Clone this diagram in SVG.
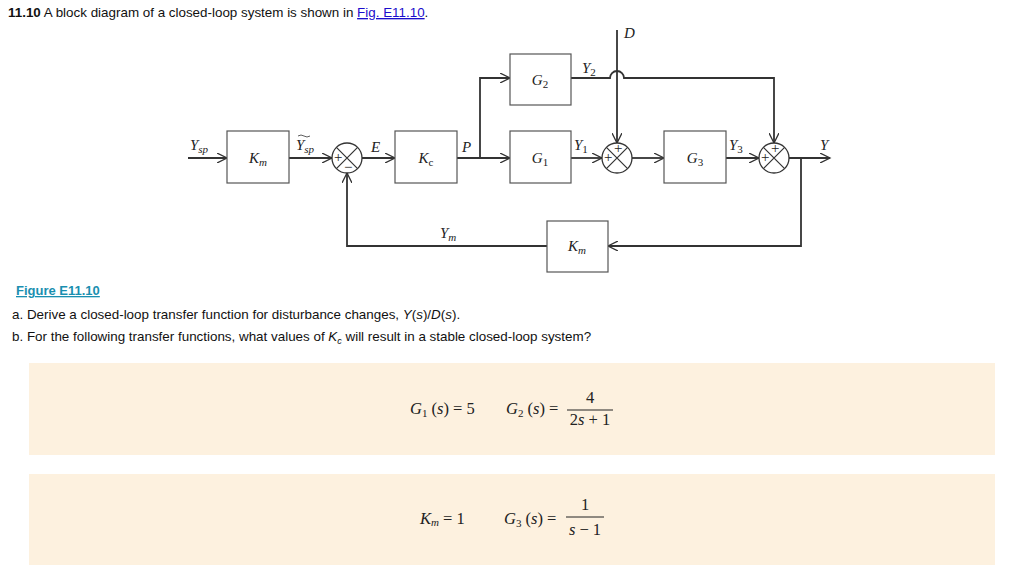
<svg xmlns="http://www.w3.org/2000/svg" width="1024" height="569" viewBox="0 0 1024 569">
<style>
.b{fill:#fff;stroke:#555;stroke-width:1.2}
.l{fill:none;stroke:#333;stroke-width:1.8}
.m{font-family:"Liberation Serif",serif;font-style:italic;font-size:15px;fill:#222}
.r{font-family:"Liberation Serif",serif;font-size:15px;fill:#222}
.q{font-family:"Liberation Serif",serif;font-size:16.5px;fill:#222}
.t{font-family:"Liberation Sans",Arial,sans-serif;font-size:13.4px;fill:#111}
.s{fill:#fff;stroke:#333;stroke-width:1.3}
</style>
<defs><marker id="a" markerWidth="12" markerHeight="10" refX="10" refY="5" orient="auto" markerUnits="userSpaceOnUse"><path d="M0,0 L10,5 L0,10" fill="none" stroke="#333" stroke-width="1.3"/></marker></defs>
<rect width="1024" height="569" fill="#fff"/>
<text class="t" x="8" y="17"><tspan font-weight="bold">11.10</tspan> A block diagram of a closed-loop system is shown in <tspan fill="#1a0dcc" text-decoration="underline">Fig. E11.10</tspan>.</text>
<g id="connectors">
<line class="l" x1="188" y1="158" x2="227" y2="158" marker-end="url(#a)"/>
<line class="l" x1="289" y1="158" x2="332" y2="158" marker-end="url(#a)"/>
<line class="l" x1="362" y1="158" x2="395" y2="158" marker-end="url(#a)"/>
<line class="l" x1="457" y1="158" x2="510" y2="158" marker-end="url(#a)"/>
<polyline class="l" points="480,158 480,78 510,78" marker-end="url(#a)"/>
<line class="l" x1="571" y1="158" x2="602" y2="158" marker-end="url(#a)"/>
<line class="l" x1="632" y1="158" x2="664" y2="158" marker-end="url(#a)"/>
<line class="l" x1="726" y1="158" x2="759" y2="158" marker-end="url(#a)"/>
<line class="l" x1="789" y1="158" x2="830" y2="158" marker-end="url(#a)"/>
<line class="l" x1="617" y1="30" x2="617" y2="143" marker-end="url(#a)"/>
<path class="l" d="M571,78 H610 A7,7 0 0 1 624,78 H774 V143" marker-end="url(#a)"/>
<polyline class="l" points="801,158 801,246 608,246" marker-end="url(#a)"/>
<polyline class="l" points="547,246 347,246 347,173" marker-end="url(#a)"/>
</g>
<g id="km1"><rect class="b" x="227" y="131" width="62" height="52"/><text class="m" x="258" y="163" text-anchor="middle">K<tspan font-size="11" dy="3">m</tspan></text></g>
<g id="sum0"><circle class="s" cx="347" cy="158" r="15"/><path d="M336.4,147.4 L357.6,168.6 M357.6,147.4 L336.4,168.6" stroke="#333" stroke-width="1.2"/><text class="r" x="334" y="162" font-size="10">+</text><text class="r" x="344" y="172" font-size="10">−</text></g>
<g id="kc"><rect class="b" x="395" y="131" width="62" height="52"/><text class="m" x="426" y="163" text-anchor="middle">K<tspan font-size="11" dy="3" font-style="normal">c</tspan></text></g>
<g id="g2"><rect class="b" x="510" y="54" width="61" height="51"/><text class="m" x="540" y="85" text-anchor="middle">G<tspan font-size="11" dy="3" font-style="normal">2</tspan></text></g>
<g id="g1"><rect class="b" x="510" y="131" width="61" height="52"/><text class="m" x="540" y="163" text-anchor="middle">G<tspan font-size="11" dy="3" font-style="normal">1</tspan></text></g>
<g id="sum1"><circle class="s" cx="617" cy="158" r="15"/><path d="M606.4,147.4 L627.6,168.6 M627.6,147.4 L606.4,168.6" stroke="#333" stroke-width="1.2"/><text class="r" x="604" y="162" font-size="10">+</text><text class="r" x="614" y="153" font-size="10">+</text></g>
<g id="g3"><rect class="b" x="664" y="131" width="62" height="52"/><text class="m" x="695" y="163" text-anchor="middle">G<tspan font-size="11" dy="3" font-style="normal">3</tspan></text></g>
<g id="sum2"><circle class="s" cx="774" cy="158" r="15"/><path d="M763.4,147.4 L784.6,168.6 M784.6,147.4 L763.4,168.6" stroke="#333" stroke-width="1.2"/><text class="r" x="761" y="162" font-size="10">+</text><text class="r" x="771" y="153" font-size="10">+</text></g>
<g id="km2"><rect class="b" x="547" y="221" width="61" height="51"/><text class="m" x="577" y="251" text-anchor="middle">K<tspan font-size="11" dy="3">m</tspan></text></g>
<g id="labels">
<text class="m" x="190" y="150">Y<tspan font-size="11" dy="3">sp</tspan></text>
<text class="m" x="296" y="150">Y<tspan font-size="11" dy="3">sp</tspan></text>
<path d="M298,136 q3,-2 6,0 t6,0" fill="none" stroke="#333" stroke-width="0.8"/>
<text class="m" x="371" y="152">E</text>
<text class="m" x="462" y="152">P</text>
<text class="m" x="574" y="150">Y<tspan font-size="11" dy="3" font-style="normal">1</tspan></text>
<text class="m" x="582" y="73">Y<tspan font-size="11" dy="3" font-style="normal">2</tspan></text>
<text class="m" x="729" y="150">Y<tspan font-size="11" dy="3" font-style="normal">3</tspan></text>
<text class="m" x="820" y="150">Y</text>
<text class="m" x="624" y="38" font-size="12">D</text>
<text class="m" x="440" y="238">Y<tspan font-size="11" dy="3">m</tspan></text>
</g>
<text x="16" y="295" font-family="Liberation Sans,Arial,sans-serif" font-size="13" font-weight="bold" fill="#1a8fb0" text-decoration="underline">Figure E11.10</text>
<text class="t" x="12" y="319">a.  Derive a closed-loop transfer function for disturbance changes, <tspan font-style="italic">Y</tspan>(<tspan font-style="italic">s</tspan>)/<tspan font-style="italic">D</tspan>(<tspan font-style="italic">s</tspan>).</text>
<text class="t" x="12" y="341">b.  For the following transfer functions, what values of <tspan font-style="italic">K</tspan><tspan font-size="9" dy="3" font-style="italic">c</tspan><tspan dy="-3"> will result in a stable closed-loop system?</tspan></text>
<rect x="29" y="363" width="966" height="92" fill="#fdf1df"/>
<rect x="29" y="474" width="966" height="91" fill="#fdf1df"/>
<g>
<text class="q" x="410" y="414" font-style="italic">G<tspan font-size="11" dy="3" font-style="normal">1</tspan><tspan dy="-3" font-style="normal"> (</tspan>s<tspan font-style="normal">) = 5</tspan></text>
<text class="q" x="506" y="414" font-style="italic">G<tspan font-size="11" dy="3" font-style="normal">2</tspan><tspan dy="-3" font-style="normal"> (</tspan>s<tspan font-style="normal">) =</tspan></text>
<line x1="567" y1="410" x2="613" y2="410" stroke="#222" stroke-width="1"/>
<text class="q" x="590" y="403" text-anchor="middle">4</text>
<text class="q" x="590" y="425" text-anchor="middle">2<tspan font-style="italic">s</tspan> + 1</text>
<text class="q" x="420" y="524" font-style="italic">K<tspan font-size="11" dy="2">m</tspan><tspan dy="-2" font-style="normal"> = 1</tspan></text>
<text class="q" x="504" y="524" font-style="italic">G<tspan font-size="11" dy="3" font-style="normal">3</tspan><tspan dy="-3" font-style="normal"> (</tspan>s<tspan font-style="normal">) =</tspan></text>
<line x1="566" y1="517" x2="604" y2="517" stroke="#222" stroke-width="1"/>
<text class="q" x="585" y="510" text-anchor="middle">1</text>
<text class="q" x="585" y="535" text-anchor="middle"><tspan font-style="italic">s</tspan> − 1</text>
</g>
</svg>
